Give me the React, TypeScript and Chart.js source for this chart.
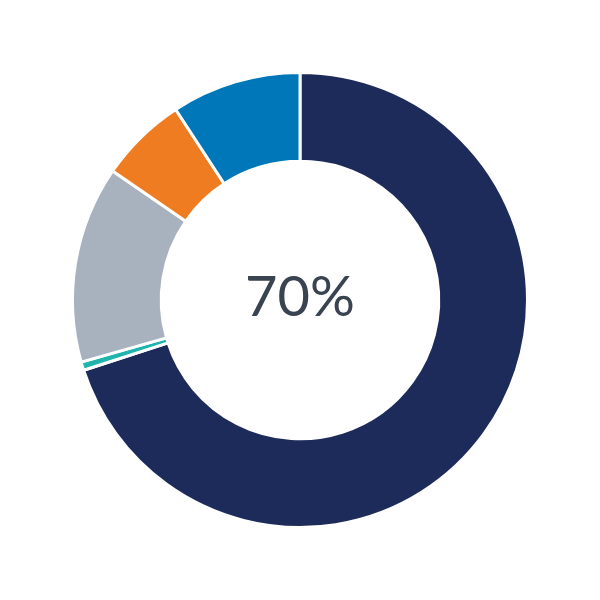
import React, { useEffect, useRef } from "react";
import { Chart, registerables } from "chart.js";

Chart.register(...registerables);

const labels = ["A", "B", "C", "D", "E"];
const values = [70, 0.6, 14.0, 6.2, 9.2];
const colors = ["#1c2b5a", "#1fb5ad", "#a8b2bf", "#f07c21", "#0077b8"];
const centerText = "70%";

export default function App() {
  const ref = useRef<HTMLCanvasElement | null>(null);
  useEffect(() => {
    if (!ref.current) return;
    const centerPlugin = {
      id: "centerText",
      afterDraw(chart: any) {
        const { ctx } = chart;
        const meta = chart.getDatasetMeta(0);
        const arc = meta.data[0];
        if (!arc) return;
        ctx.save();
        ctx.font = "56px Lato";
        ctx.fillStyle = "#3a4350";
        ctx.textAlign = "center";
        ctx.textBaseline = "alphabetic";
        ctx.fillText(centerText, arc.x, arc.y + 16);
        ctx.restore();
      },
    };
    const chart = new Chart(ref.current, {
      type: "doughnut",
      data: {
        labels,
        datasets: [
          {
            data: values,
            backgroundColor: colors,
            borderColor: "#ffffff",
            borderWidth: 3,
          },
        ],
      },
      options: {
        animation: false,
        responsive: false,
        maintainAspectRatio: false,
        cutout: "61%",
        layout: { padding: 63 },
        plugins: { legend: { display: false }, tooltip: { enabled: false } },
      },
      plugins: [centerPlugin],
    });
    return () => chart.destroy();
  }, []);
  return (
    <div style={{ width: 584, height: 584 }}>
      <canvas ref={ref} width={584} height={584} style={{ width: 584, height: 584 }} />
    </div>
  );
}
